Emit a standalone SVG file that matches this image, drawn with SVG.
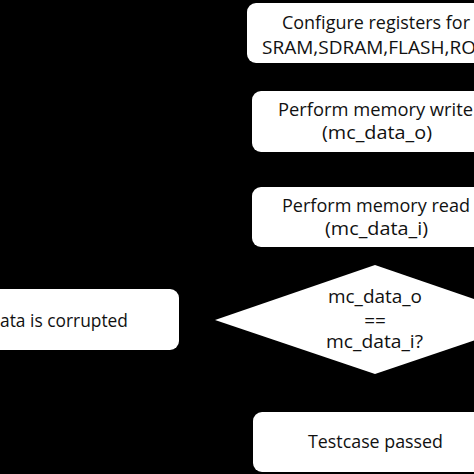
<svg xmlns="http://www.w3.org/2000/svg" width="474" height="474" viewBox="0 0 474 474">
<style>
.box{fill:#fff;stroke:none}
.t{font-family:"Open Sans","Liberation Sans",sans-serif;font-size:19px;fill:#111}
.m{text-anchor:middle}
</style>
<rect x="0" y="0" width="474" height="474" fill="#000"/>
<g id="connectors"></g>
<g id="n1"><rect class="box" x="247" y="3" width="260" height="60" rx="9"/>
<text class="t" x="282" y="29" textLength="188" lengthAdjust="spacingAndGlyphs">Configure registers for</text>
<text class="t" x="262" y="54" textLength="214" lengthAdjust="spacingAndGlyphs">SRAM,SDRAM,FLASH,RO</text></g>
<g id="n2"><rect class="box" x="252" y="91" width="260" height="61" rx="9"/>
<text class="t" x="278" y="116" textLength="195" lengthAdjust="spacingAndGlyphs">Perform memory write</text>
<text class="t" x="322" y="139" textLength="110" lengthAdjust="spacingAndGlyphs">(mc_data_o)</text></g>
<g id="n3"><rect class="box" x="252" y="187" width="260" height="60" rx="9"/>
<text class="t" x="282" y="212" textLength="188" lengthAdjust="spacingAndGlyphs">Perform memory read</text>
<text class="t" x="325" y="235" textLength="103" lengthAdjust="spacingAndGlyphs">(mc_data_i)</text></g>
<g id="n4"><rect class="box" x="-40" y="289" width="219" height="61" rx="9"/>
<text class="t" x="0" y="327" textLength="128" lengthAdjust="spacingAndGlyphs">ata is corrupted</text></g>
<g id="n5"><polygon class="box" points="215,320 375,265 535,320 375,374"/>
<text class="t" x="328" y="303" textLength="94" lengthAdjust="spacingAndGlyphs">mc_data_o</text>
<text class="t m" x="375" y="327">==</text>
<text class="t" x="326" y="348" textLength="97" lengthAdjust="spacingAndGlyphs">mc_data_i?</text></g>
<g id="n6"><rect class="box" x="253" y="412" width="260" height="60" rx="9"/>
<text class="t" x="308" y="448" textLength="135" lengthAdjust="spacingAndGlyphs">Testcase passed</text></g>
</svg>
